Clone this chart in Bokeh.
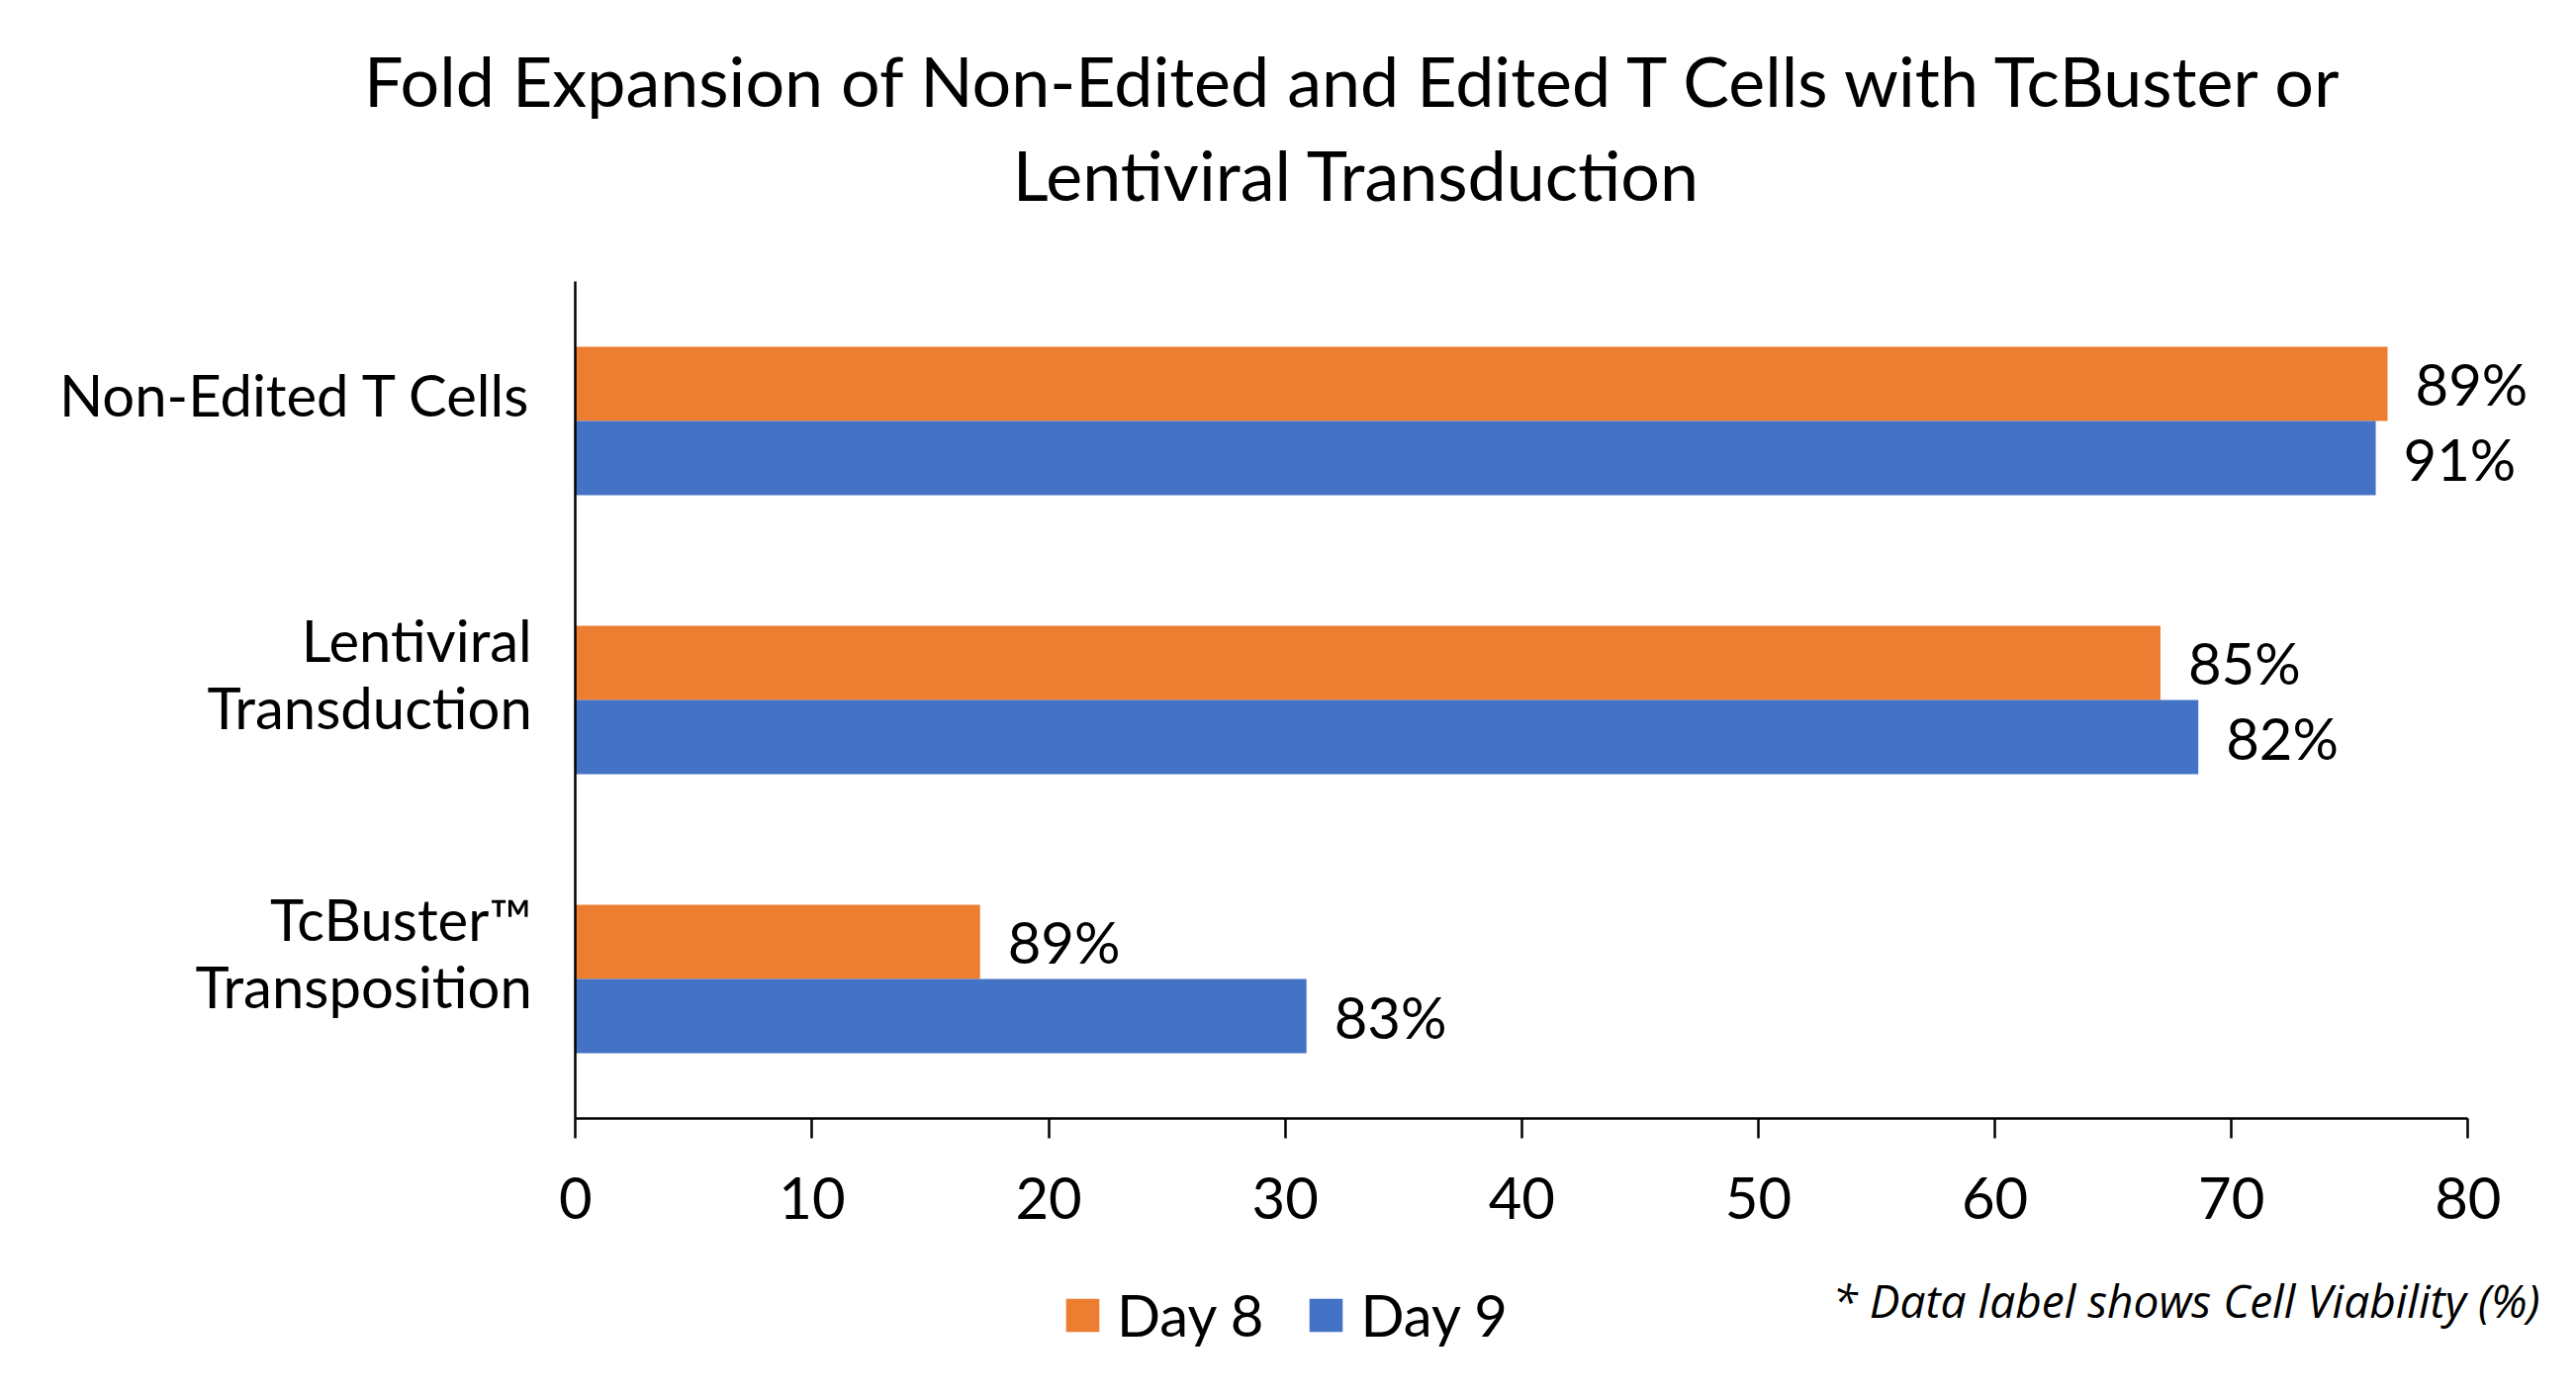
from bokeh.plotting import figure
from bokeh.models import (ColumnDataSource, FactorRange, Range1d, FixedTicker, Label,
                          Legend, LegendItem)
from bokeh.transform import dodge
from bokeh.core.properties import value
from bokeh.embed import file_html
from bokeh.resources import INLINE

# ---- data ----
categories = ["Non-Edited T Cells", "Lentiviral\nTransduction", "TcBuster\u2122\nTransposition"]
day8 = [76.6, 67.0, 17.1]
day9 = [76.1, 68.6, 30.9]
viab8 = ["89%", "85%", "89%"]
viab9 = ["91%", "82%", "83%"]
series_names = ["Day 8", "Day 9"]
x_ticks = [0, 10, 20, 30, 40, 50, 60, 70, 80]
x_min, x_max = 0, 80
title_lines = ["Fold Expansion of Non-Edited and Edited T Cells with TcBuster or",
               "Lentiviral Transduction"]
footnote = "* Data label shows Cell Viability (%)"

ORANGE = "#ED7D31"
BLUE = "#4472C4"
FONT = "Lato"

W, H = 2588, 1396
TOP = 18                       # frame top
AX_X0, PX_PER_UNIT = 581.3, 23.9125
PAD = 266.0 / 282.0            # category padding (synthetic units)

src = ColumnDataSource(dict(cat=categories, d8=day8, d9=day9, v8=viab8, v9=viab9))

p = figure(width=W, height=H, output_backend="svg", toolbar_location=None,
           y_range=FactorRange(factors=categories[::-1], range_padding=PAD,
                               range_padding_units="absolute"),
           x_range=Range1d(-AX_X0 / PX_PER_UNIT, (W - AX_X0) / PX_PER_UNIT),
           min_border_left=0, min_border_right=0,
           min_border_top=TOP, min_border_bottom=0)
p.outline_line_color = None
p.grid.grid_line_color = None
p.background_fill_color = "white"
p.border_fill_color = "white"

bh = 0.266
r8 = p.hbar(y=dodge("cat", bh / 2, range=p.y_range), right="d8", left=0, height=bh,
            source=src, fill_color=ORANGE, line_color=None)
r9 = p.hbar(y=dodge("cat", -bh / 2, range=p.y_range), right="d9", left=0, height=bh,
            source=src, fill_color=BLUE, line_color=None)

p.text(x="d8", y=dodge("cat", bh / 2, range=p.y_range), text="v8", source=src,
       x_offset=28, text_align="left", text_baseline="middle",
       text_font=value(FONT), text_font_size="58px", text_color="black")
p.text(x="d9", y=dodge("cat", -bh / 2, range=p.y_range), text="v9", source=src,
       x_offset=28, text_align="left", text_baseline="middle",
       text_font=value(FONT), text_font_size="58px", text_color="black")

# category labels, placed on the categorical scale at x = 0
p.text(x=0, y="cat", text="cat", source=src, x_offset=-44, y_offset=-27,
       text_align="right", text_baseline="middle", text_line_height=0.98,
       text_font=value(FONT), text_font_size="58px", text_color="black")

# axes (fixed inside the frame so that everything else can live around them)
xa = p.xaxis[0]
xa.fixed_location = 0
xa.bounds = (x_min, x_max)
xa.ticker = FixedTicker(ticks=x_ticks)
xa.minor_tick_line_color = None
xa.major_tick_in = 0
xa.major_tick_out = 20
xa.axis_line_width = 2.5
xa.major_tick_line_width = 2.5
xa.axis_line_color = "black"
xa.major_tick_line_color = "black"
xa.major_label_text_font = FONT
xa.major_label_text_font_size = "58px"
xa.major_label_text_color = "black"
xa.major_label_standoff = 39

ya = p.yaxis[0]
ya.fixed_location = 0
ya.bounds = (0, len(categories))
ya.major_tick_line_color = None
ya.minor_tick_line_color = None
ya.axis_line_width = 2.5
ya.axis_line_color = "black"
ya.major_label_text_color = None

# title (screen units measured from the frame's bottom-left)
FB = H  # frame bottom in canvas px
for t, base in zip(title_lines, [80, 175]):
    p.add_layout(Label(x=1371, y=FB - base, x_units="screen", y_units="screen",
                       text=t, text_align="center", text_baseline="alphabetic",
                       text_font=FONT, text_font_size="70px", text_color="black"))

# footnote
p.add_layout(Label(x=1852, y=FB - 1313, x_units="screen", y_units="screen", text=footnote,
                   text_align="left", text_baseline="alphabetic",
                   text_font="Open Sans", text_font_style="italic",
                   text_font_size="46px", text_color="black"))

legend = Legend(items=[LegendItem(label=series_names[0], renderers=[r8]),
                       LegendItem(label=series_names[1], renderers=[r9])],
                orientation="horizontal", location=(1073, 33),
                glyph_width=42, glyph_height=42, label_standoff=14, spacing=42,
                padding=0, margin=0, border_line_color=None,
                background_fill_alpha=0,
                label_text_font=FONT, label_text_font_size="58px",
                label_text_color="black")
p.add_layout(legend, "center")

open("out.html", "w").write(file_html(p, INLINE))
